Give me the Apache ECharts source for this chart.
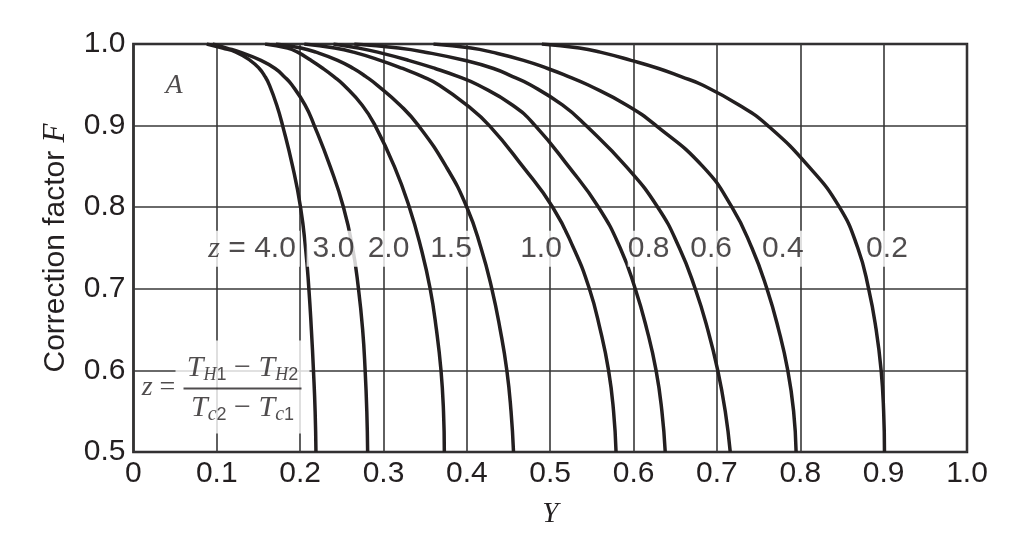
<!DOCTYPE html>
<html><head><meta charset="utf-8">
<script src="https://cdn.jsdelivr.net/npm/echarts@6/dist/echarts.min.js"></script>
<style>html,body{margin:0;padding:0;background:#fff}#c{width:1024px;height:541px}</style>
</head><body><div id="c"></div>
<script>
// ---- data ----
const zLabels = ['4.0','3.0','2.0','1.5','1.0','0.8','0.6','0.4','0.2'];
// correction factor F levels at which each curve's Y was read
const fLevels = [1.000,0.995,0.990,0.980,0.970,0.960,0.950,0.925,0.900,0.850,0.800,0.750,0.700,0.650,0.600,0.550,0.500];
const yZ40 = [0.088,0.107,0.123,0.140,0.151,0.158,0.163,0.172,0.179,0.191,0.2005,0.2065,0.2105,0.2135,0.216,0.218,0.219];
const yZ30 = [0.095,0.112,0.128,0.153,0.170,0.181,0.190,0.206,0.217,0.236,0.252,0.263,0.270,0.275,0.278,0.280,0.281];
const yZ20 = [0.158,0.185,0.197,0.213,0.2275,0.2405,0.252,0.2745,0.290,0.313,0.331,0.345,0.356,0.3635,0.369,0.372,0.373];
const yZ15 = [0.171,0.201,0.219,0.245,0.264,0.279,0.292,0.320,0.342,0.375,0.400,0.417,0.430,0.440,0.448,0.453,0.456];
const yZ10 = [0.205,0.2415,0.264,0.296,0.323,0.347,0.366,0.400,0.427,0.467,0.503,0.528,0.547,0.560,0.570,0.576,0.579];
const yZ08 = [0.240,0.270,0.293,0.330,0.362,0.390,0.413,0.455,0.482,0.522,0.558,0.584,0.602,0.616,0.627,0.634,0.638];
const yZ06 = [0.265,0.318,0.350,0.397,0.432,0.455,0.476,0.515,0.543,0.591,0.629,0.655,0.674,0.689,0.701,0.710,0.716];
const yZ04 = [0.360,0.405,0.430,0.468,0.497,0.522,0.545,0.592,0.627,0.683,0.718,0.742,0.760,0.774,0.785,0.792,0.795];
const yZ02 = [0.490,0.535,0.560,0.597,0.630,0.657,0.682,0.727,0.761,0.810,0.847,0.869,0.882,0.891,0.897,0.900,0.901];
const curveY = [yZ40,yZ30,yZ20,yZ15,yZ10,yZ08,yZ06,yZ04,yZ02];
const xTickLabels = ['0','0.1','0.2','0.3','0.4','0.5','0.6','0.7','0.8','0.9','1.0'];
const yTickLabels = ['0.5','0.6','0.7','0.8','0.9','1.0'];

const INK = '#231f20';
const SANS = 'Liberation Sans, Arial, sans-serif';
const SERIF = 'Liberation Serif, Times New Roman, serif';

const curveSeries = curveY.map((ys, i) => ({
  name: 'z = ' + zLabels[i],
  type: 'line',
  data: ys.map((y, k) => [y, fLevels[k]]),
  smooth: 0.5,
  showSymbol: false,
  silent: true,
  z: 3,
  lineStyle: { color: INK, width: 3.5 }
}));

const lbl = (fmt, pad) => ({ formatter: fmt, padding: pad });
const annotationSeries = {
  type: 'scatter',
  symbolSize: 0,
  silent: true,
  z: 6,
  label: {
    show: true, position: 'inside', align: 'center', verticalAlign: 'middle',
    color: INK, fontFamily: SANS, fontSize: 30, backgroundColor: '#fff',
    rich: {
      zi: { fontFamily: SERIF, fontStyle: 'italic', fontSize: 30, color: INK }
    }
  },
  data: [
    { value: [0.1424, 0.749], label: lbl('{zi|z} = ' + zLabels[0], [3,4]) },
    { value: [0.240, 0.749], label: lbl(zLabels[1], [3,6]) },
    { value: [0.306, 0.749], label: lbl(zLabels[2], [3,2]) },
    { value: [0.381, 0.749], label: lbl(zLabels[3], [3,1]) },
    { value: [0.489, 0.749], label: lbl(zLabels[4], [3,2]) },
    { value: [0.618, 0.749], label: lbl(zLabels[5], [3,0]) },
    { value: [0.693, 0.749], label: lbl(zLabels[6], [3,0]) },
    { value: [0.779, 0.749], label: lbl(zLabels[7], [3,0]) },
    { value: [0.904, 0.749], label: lbl(zLabels[8], [3,0]) },
    { value: [0.0487, 0.9485], label: { formatter: 'A', backgroundColor: 'transparent',
        fontFamily: SERIF, fontStyle: 'italic', fontSize: 28 } },
    { value: [0.0301, 0.5785], label: { formatter: '{zi|z} =', backgroundColor: 'transparent',
        fontFamily: SERIF, fontSize: 28, rich: { zi: { fontFamily: SERIF, fontStyle: 'italic', fontSize: 28, color: INK } } } },
    { value: [0.1309, 0.5798], label: {
        formatter: '{T|T}{sh|H}{sd|1}{mi| − }{T|T}{sh|H}{sd|2}\n{bar| }\n{T|T}{sc|c}{sd|2}{mi| − }{T|T}{sc|c}{sd|1}',
        backgroundColor: '#fff', padding: [12, 8, 9, 8],
        rich: {
          T: { fontFamily: SERIF, fontStyle: 'italic', fontSize: 30, lineHeight: 32, color: INK },
          mi: { fontFamily: SERIF, fontSize: 30, lineHeight: 32, color: INK },
          sh: { fontFamily: SERIF, fontStyle: 'italic', fontSize: 18, lineHeight: 12, verticalAlign: 'bottom', color: INK },
          sc: { fontFamily: SERIF, fontStyle: 'italic', fontSize: 20, lineHeight: 12, verticalAlign: 'bottom', color: INK },
          sd: { fontFamily: SANS, fontSize: 18, lineHeight: 12, verticalAlign: 'bottom', color: INK },
          bar: { width: 118, height: 2, lineHeight: 8, fontSize: 2, backgroundColor: INK }
        }
    } }
  ]
};

const chart = echarts.init(document.getElementById('c'), null, { renderer: 'canvas' });
chart.setOption({
  animation: false,
  backgroundColor: '#fff',
  grid: { left: 133.4, right: 57, top: 44, bottom: 89, show: true, borderColor: INK, borderWidth: 2.5, backgroundColor: '#fff', containLabel: false },
  xAxis: {
    type: 'value', min: 0, max: 1, interval: 0.1,
    name: 'Y', nameLocation: 'middle', nameGap: 48,
    nameTextStyle: { fontFamily: SERIF, fontStyle: 'italic', fontSize: 29, color: INK },
    axisLine: { show: false }, axisTick: { show: false },
    axisLabel: { margin: 7, fontFamily: SANS, fontSize: 30, color: INK,
      formatter: v => xTickLabels[Math.round(v * 10)] },
    splitLine: { show: true, lineStyle: { color: '#383838', width: 1.6 } }
  },
  yAxis: {
    type: 'value', min: 0.5, max: 1.0, interval: 0.1,
    name: 'Correction factor {fi|F}', nameLocation: 'middle', nameGap: 62, nameRotate: 90,
    nameTextStyle: { fontFamily: SANS, fontSize: 30, color: INK,
      rich: { fi: { fontFamily: SERIF, fontStyle: 'italic', fontSize: 31, color: INK } } },
    axisLine: { show: false }, axisTick: { show: false },
    axisLabel: { margin: 8, fontFamily: SANS, fontSize: 30, color: INK,
      formatter: v => yTickLabels[Math.round((v - 0.5) * 10)] },
    splitLine: { show: true, lineStyle: { color: '#383838', width: 1.6 } }
  },
  series: curveSeries.concat([annotationSeries])
});
</script>
</body></html>
